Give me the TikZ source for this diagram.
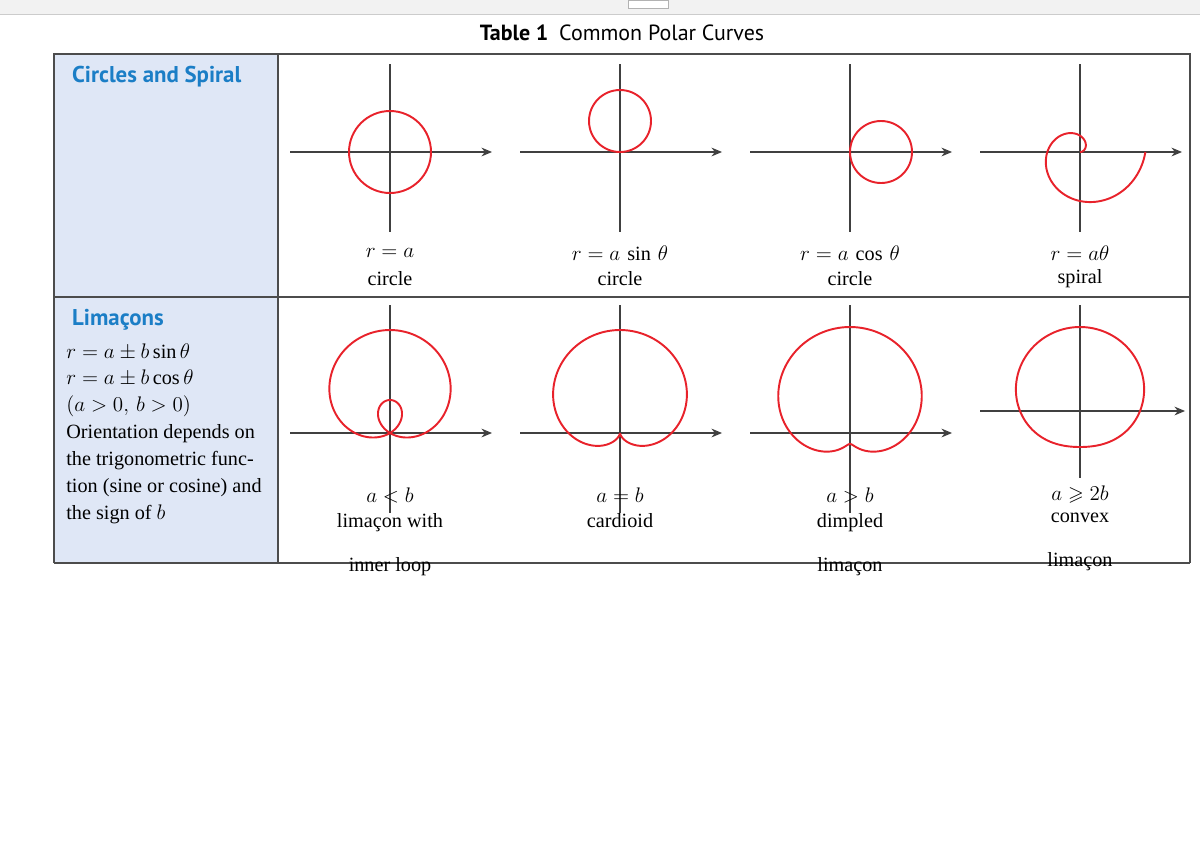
\documentclass[tikz,border=0pt]{standalone}
\usepackage{amssymb}
\usepackage{fontspec}
\setmainfont{Liberation Serif}
\newfontfamily\hd{PT Sans}
\usetikzlibrary{arrows.meta}
\definecolor{cellblue}{HTML}{DFE7F6}
\definecolor{hblue}{HTML}{1B7EC6}
\definecolor{curvered}{HTML}{E8222B}
\tikzset{
 axis/.style={draw=black!75,line width=0.6pt},
 axarr/.style={axis,-{Stealth[length=6pt,width=5pt]}},
 curve/.style={draw=curvered,line width=1.1pt},
 lab/.style={font=\fontsize{11.5}{14}\selectfont,inner sep=0pt},
 grid/.style={draw=black!70,line width=0.8pt}
}
\begin{document}
\begin{tikzpicture}[x=0.02cm,y=-0.02cm]
\useasboundingbox (0,0) rectangle (1200,849);
\fill[black!5] (0,0) rectangle (1200,14);
\draw[black!20,line width=1pt] (0,14.5) -- (1200,14.5);
\draw[black!30,fill=white] (628,0) rectangle (668,8);
\node (title) at (622,33) {\hd\fontsize{12.5}{14}\selectfont\bfseries Table 1\enspace\mdseries Common Polar Curves};
\fill[cellblue] (54,54) rectangle (278,563);
\draw[grid] (54,563) -- (54,54) -- (1190,54) -- (1190,563);
\draw[grid] (278,54) -- (278,563);
\draw[grid] (54,297) -- (1190,297);
\draw[grid,line width=1.1pt] (54,563) -- (1190,563);
\node[anchor=west,text=hblue,font=\hd\fontsize{13}{15}\selectfont\bfseries] (h1) at (66,77) {Circles and Spiral};
\node[anchor=west,text=hblue,font=\hd\fontsize{13}{15}\selectfont\bfseries] (h2) at (66,320) {Limaçons};
\node[anchor=north west,align=left,font=\fontsize{11.5}{15.3}\selectfont,inner sep=0pt] (desc) at (66,343)
 {$r=a\pm b\sin\theta$\\ $r=a\pm b\cos\theta$\\ $(a>0,\,b>0)$\\ Orientation depends on\\ the trigonometric func-\\ tion (sine or cosine) and\\ the sign of $b$};
% row 1 axes
\foreach \cx in {390,620,850,1080}{
 \draw[axarr] (\cx-100,152) -- (\cx+102,152);
 \draw[axis] (\cx,64) -- (\cx,232);
}
\begin{scope}[shift={(390,152)},yscale=-1]
 \draw[curve] (0,0) circle (41);
\end{scope}
\begin{scope}[shift={(620,152)},yscale=-1]
 \draw[curve] (0,31) circle (31);
\end{scope}
\begin{scope}[shift={(850,152)},yscale=-1]
 \draw[curve] (31,0) circle (31);
\end{scope}
\begin{scope}[shift={(1080,152)},yscale=-1]
 \draw[curve,smooth] plot[domain=0:360,samples=120] (\x:{10.4*\x*pi/180});
\end{scope}
% row 2 axes
\foreach \cx in {390,620,850}{
 \draw[axarr] (\cx-100,433) -- (\cx+102,433);
 \draw[axis] (\cx,305) -- (\cx,513);
}
\draw[axarr] (980,411) -- (1185,411);
\draw[axis] (1080,305) -- (1080,478);
\begin{scope}[shift={(390,433)},yscale=-1]
 \draw[curve,smooth] plot[domain=0:360,samples=240] (\x:{35+68*sin(\x)});
\end{scope}
\begin{scope}[shift={(620,433)},yscale=-1]
 \draw[curve,smooth] plot[domain=-90:270,samples=240] (\x:{51.5+51.5*sin(\x)});
\end{scope}
\begin{scope}[shift={(850,434)},yscale=-1]
 \draw[curve,smooth] plot[domain=0:360,samples=200] (\x:{58.5+48.5*sin(\x)});
\end{scope}
\begin{scope}[shift={(1080,411)},yscale=-1]
 \draw[curve,smooth] plot[domain=0:360,samples=200] (\x:{60+24*sin(\x)});
\end{scope}
% labels
\node[lab] (l1) at (390,253) {$r=a$};
\node[lab] (l1b) at (390,279) {circle};
\node[lab] (l2) at (620,253) {$r=a\,\sin\,\theta$};
\node[lab] (l2b) at (620,279) {circle};
\node[lab] (l3) at (850,253) {$r=a\,\cos\,\theta$};
\node[lab] (l3b) at (850,279) {circle};
\node[lab] (l4) at (1080,253) {$r=a\theta$};
\node[lab] (l4b) at (1080,279) {spiral};
\node[lab] (m1) at (390,495) {$a<b$};
\node[lab,align=center,font=\fontsize{11.5}{25}\selectfont,anchor=north] (m1b) at (390,513) {limaçon with\\inner loop};
\node[lab] (m2) at (620,495) {$a=b$};
\node[lab] (m2b) at (620,521) {cardioid};
\node[lab] (m3) at (850,495) {$a>b$};
\node[lab,align=center,font=\fontsize{11.5}{25}\selectfont,anchor=north] (m3b) at (850,513) {dimpled\\limaçon};
\node[lab] (m4) at (1080,495) {$a\geqslant 2b$};
\node[lab,align=center,font=\fontsize{11.5}{25}\selectfont,anchor=north] (m4b) at (1080,513) {convex\\limaçon};
\end{tikzpicture}
\end{document}
